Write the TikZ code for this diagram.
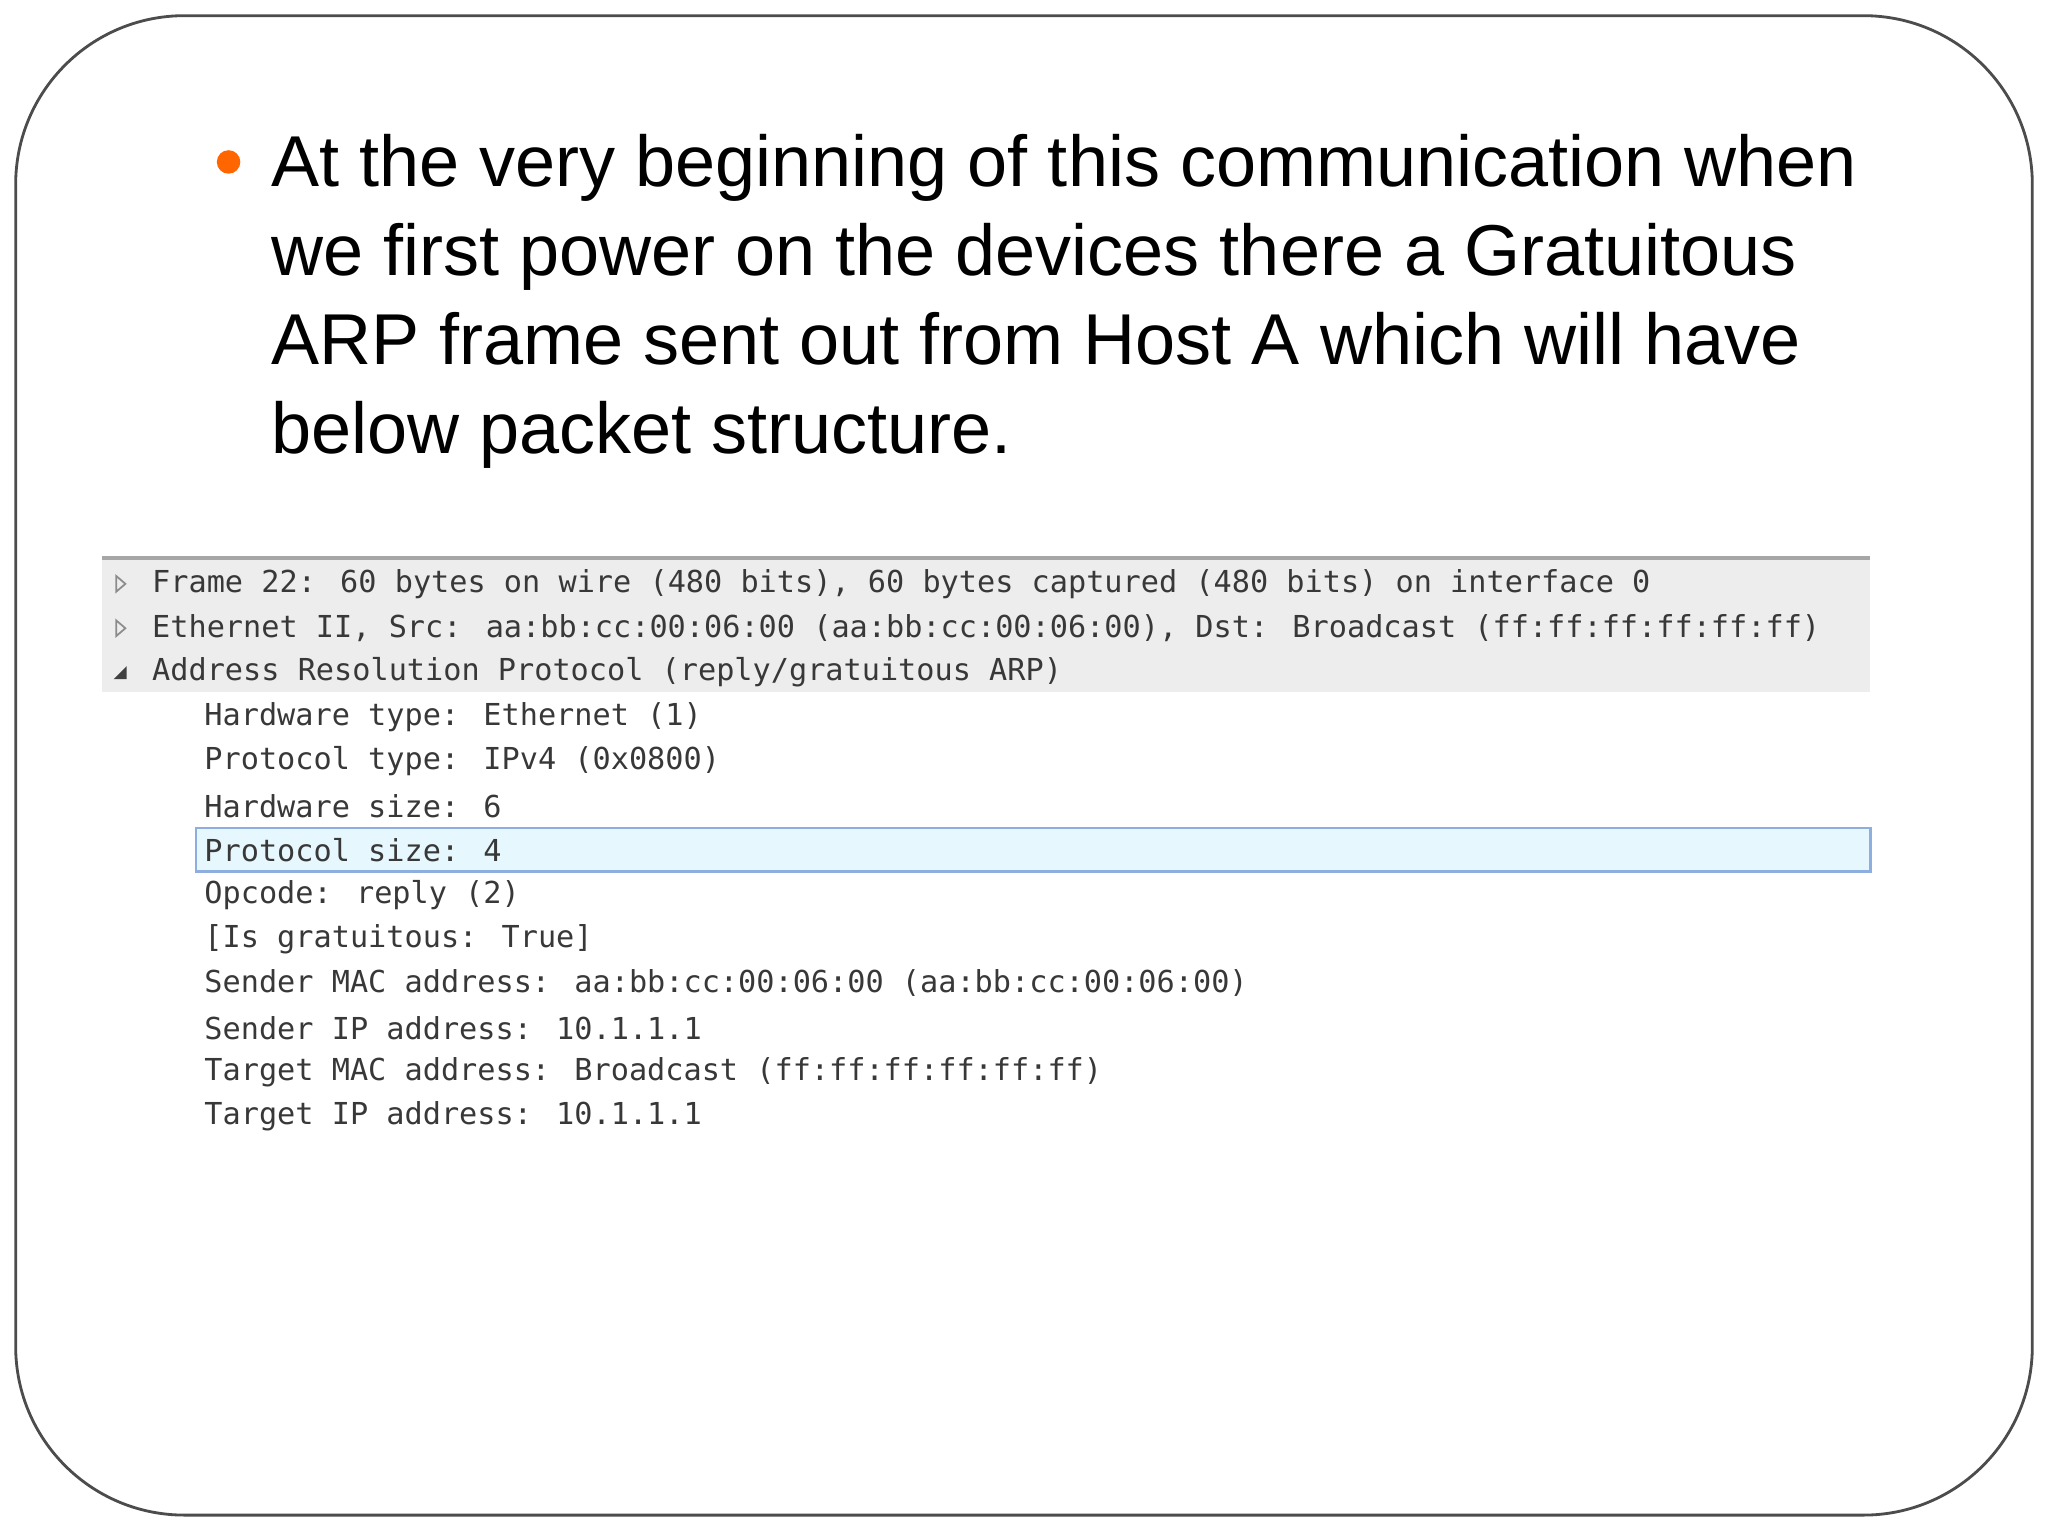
\documentclass[tikz,border=0pt]{standalone}
\usepackage{fontspec}
\setmainfont{Liberation Sans}
\newfontfamily\wsmono{DejaVu Sans Mono}
\begin{document}
\begin{tikzpicture}[x=0.013061cm,y=-0.013061cm,
  bul/.style={anchor=base west,inner sep=0,font=\fontsize{20.5pt}{25pt}\selectfont,text=black},
  ws/.style={anchor=west,inner sep=0,font=\wsmono\fontsize{8.6pt}{10pt}\selectfont,text=black!78}]
\useasboundingbox (0,0) rectangle (1568,1176);
\fill[white] (0,0) rectangle (1568,1176);
\draw[black!70,line width=0.8pt,rounded corners=48] (12,12) rectangle (1556,1160);
\fill[orange!80!red] (175,124) circle (9);
\node[bul] (l1) at (207,143) {At the very beginning of this communication when};
\node[bul] (l2) at (207,211) {we first power on the devices there a Gratuitous};
\node[bul] (l3) at (207,279) {ARP frame sent out from Host A which will have};
\node[bul] (l4) at (207,347) {below packet structure.};
% wireshark panel
\fill[black!7] (78,428) rectangle (1432,530);
\draw[black!35,line width=1.2pt] (78,427) -- (1432,427);
\fill[cyan!10] (150,634) rectangle (1432,667);
\draw[cyan!50!blue!45,line width=0.8pt] (150,634) rectangle (1432,667);
\draw[black!45,line width=0.5pt] (89,441) -- (96,447) -- (89,453) -- cycle;
\draw[black!45,line width=0.5pt] (89,475) -- (96,481) -- (89,487) -- cycle;
\fill[black!75] (97,510) -- (97,520) -- (87,520) -- cycle;
\node[ws] (r1) at (116,447) {Frame 22: 60 bytes on wire (480 bits), 60 bytes captured (480 bits) on interface 0};
\node[ws] (r2) at (116,481) {Ethernet II, Src: aa:bb:cc:00:06:00 (aa:bb:cc:00:06:00), Dst: Broadcast (ff:ff:ff:ff:ff:ff)};
\node[ws] (r3) at (116,515) {Address Resolution Protocol (reply/gratuitous ARP)};
\node[ws] (r4) at (156,549) {Hardware type: Ethernet (1)};
\node[ws] (r5) at (156,583) {Protocol type: IPv4 (0x0800)};
\node[ws] (r6) at (156,617) {Hardware size: 6};
\node[ws] (r7) at (156,651) {Protocol size: 4};
\node[ws] (r8) at (156,685) {Opcode: reply (2)};
\node[ws] (r9) at (156,719) {[Is gratuitous: True]};
\node[ws] (r10) at (156,753) {Sender MAC address: aa:bb:cc:00:06:00 (aa:bb:cc:00:06:00)};
\node[ws] (r11) at (156,787) {Sender IP address: 10.1.1.1};
\node[ws] (r12) at (156,821) {Target MAC address: Broadcast (ff:ff:ff:ff:ff:ff)};
\node[ws] (r13) at (156,855) {Target IP address: 10.1.1.1};
\end{tikzpicture}
\end{document}
